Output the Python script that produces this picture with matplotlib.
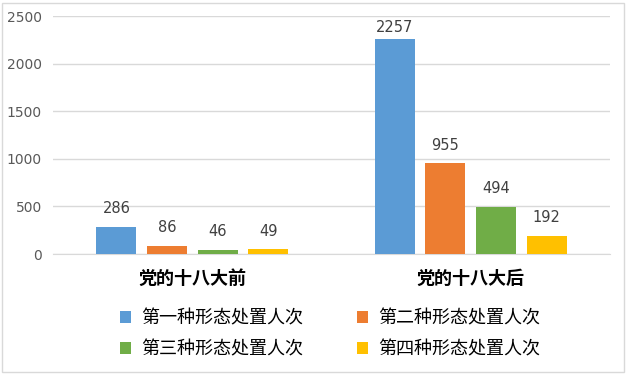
import matplotlib
matplotlib.use("Agg")
import matplotlib.pyplot as plt
from matplotlib.patches import Rectangle
import numpy as np

plt.rcParams['font.family'] = ['Noto Sans CJK SC', 'DejaVu Sans']

categories = ["党的十八大前", "党的十八大后"]
series_names = ["第一种形态处置人次", "第二种形态处置人次", "第三种形态处置人次", "第四种形态处置人次"]
values = [
    [286, 2257],
    [86, 955],
    [46, 494],
    [49, 192],
]
colors = ["#5B9BD5", "#ED7D31", "#70AD47", "#FFC000"]
yticks = [0, 500, 1000, 1500, 2000, 2500]

fig = plt.figure(figsize=(6.27, 3.74), dpi=100)
W, H = 627, 374
ax = fig.add_axes([53 / W, 1 - 254 / H, (610 - 53) / W, (254 - 16) / H])
ax.set_xlim(-0.5, 1.5)
ax.set_ylim(0, 2500)

x = np.arange(len(categories))
bw = 0.1436
step = 0.1815
offsets = (np.arange(4) - 1.5) * step
handles = []
ax_h_px = 254 - 16
for i, (name, vals, c) in enumerate(zip(series_names, values, colors)):
    bars = ax.bar(x + offsets[i], vals, width=bw, color=c, label=name, zorder=3)
    handles.append(bars)
    for xi, v in zip(x + offsets[i], vals):
        top_px = v / 2500 * ax_h_px
        center_px = min(top_px + 18, ax_h_px - 11)
        ax.annotate(str(v), (xi, v), xytext=(0, center_px - top_px), textcoords="offset pixels",
                    ha="center", va="center", fontsize=10.5, color="#404040",
                    family=['DejaVu Sans'])

ax.set_yticks(yticks)
ax.set_yticklabels([str(t) for t in yticks], fontsize=10, color="#595959", family=['DejaVu Sans'])
ax.set_xticks(x)
ax.set_xticklabels(categories, fontsize=13, fontweight="bold", color="black")
ax.tick_params(axis="both", length=0)
ax.tick_params(axis="y", pad=8)
ax.tick_params(axis="x", pad=11)
ax.grid(axis="y", color="#D9D9D9", linewidth=1, zorder=0)
for s in ["top", "right", "left"]:
    ax.spines[s].set_visible(False)
ax.spines["bottom"].set_color("#D9D9D9")

order = [0, 2, 1, 3]
leg = fig.legend([handles[k] for k in order], [series_names[k] for k in order],
                 loc="upper left", bbox_to_anchor=(104 / W, 1 - 293 / H), ncol=2,
                 frameon=False, fontsize=13, handlelength=0.6, handleheight=0.6,
                 columnspacing=3.0, handletextpad=0.55, labelspacing=0.72,
                 prop={'size': 13, 'weight': 'light'})

fig.patches.append(Rectangle((2 / W, 2 / H), (622 / W), (369 / H), transform=fig.transFigure,
                             fill=False, edgecolor="#D9D9D9", linewidth=1))
fig.savefig("out.png", dpi=100)
